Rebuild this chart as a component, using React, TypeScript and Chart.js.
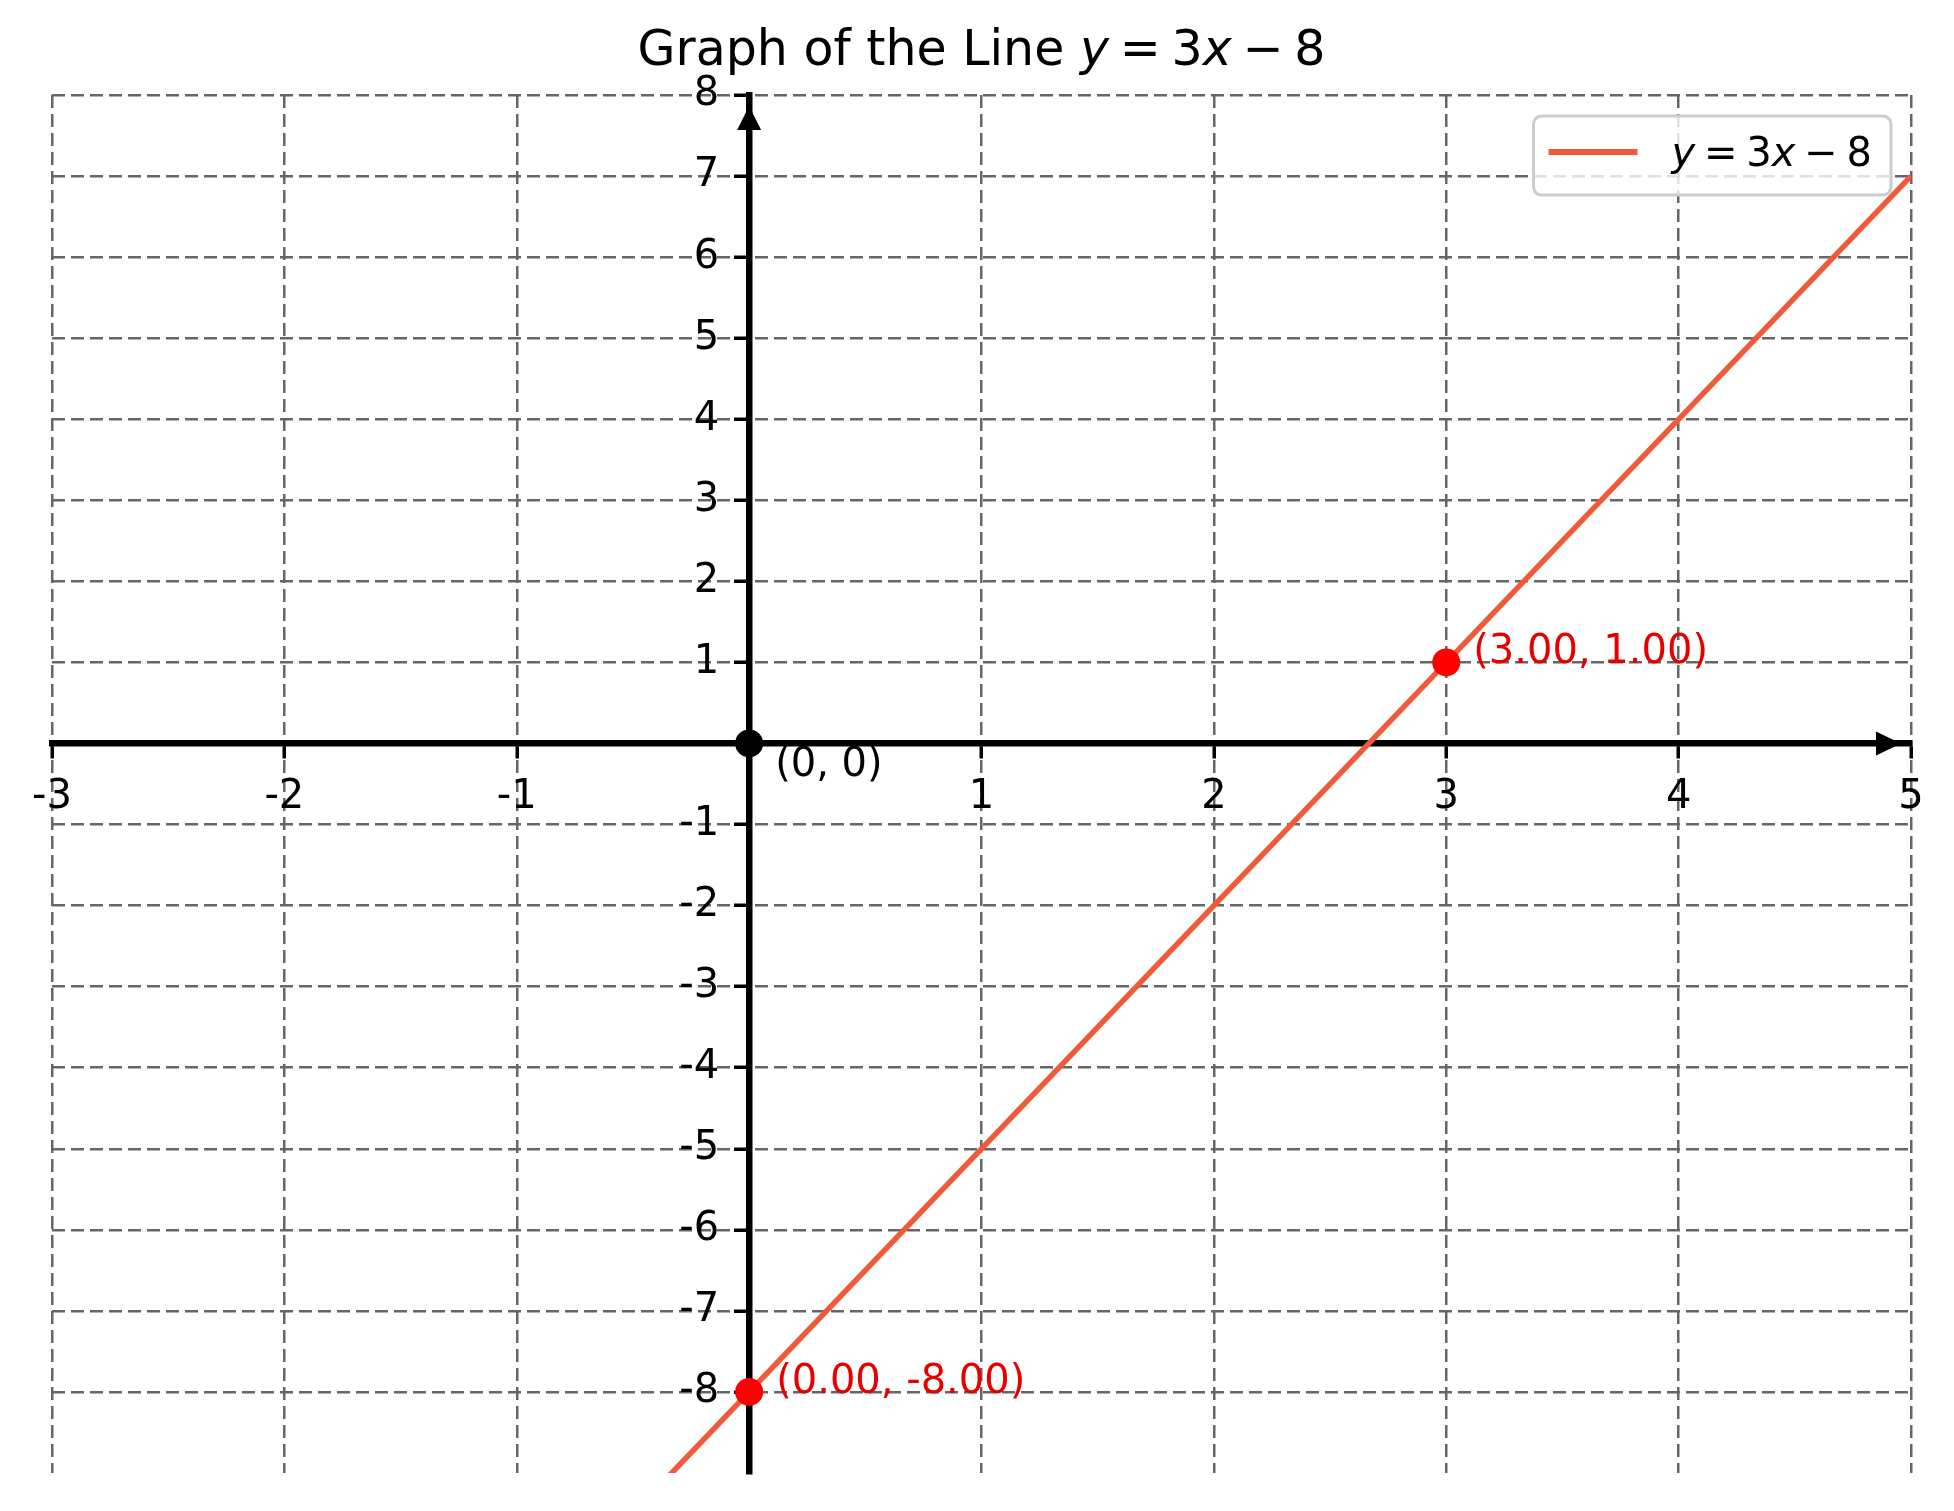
import React, { useEffect, useRef } from 'react';
import { Chart, registerables, LinearScale } from 'chart.js';

// ---- data ----
const chartTitle = 'Graph of the Line';
const seriesLabel = 'y = 3x − 8';
const lineX = [-3, 5];
const lineY = [-17, 7];
const markedX = [3, 0];
const markedY = [1, -8];
const markedLabels = ['(3.00, 1.00)', '(0.00, -8.00)'];
const originX = [0];
const originY = [0];
const originLabel = '(0, 0)';
const xTicks = [-3, -2, -1, 0, 1, 2, 3, 4, 5];
const xTickLabels = ['-3', '-2', '-1', '', '1', '2', '3', '4', '5'];
const yTicks = [-8, -7, -6, -5, -4, -3, -2, -1, 0, 1, 2, 3, 4, 5, 6, 7, 8];
const yTickLabels = ['-8', '-7', '-6', '-5', '-4', '-3', '-2', '-1', '', '1', '2', '3', '4', '5', '6', '7', '8'];
const xRange = [-3, 5];
const yRange = [-9, 8];

// ---- styles ----
const FONT = 'DejaVu Sans';
const LINE_COLOR = '#EF5A3B';
const POINT_COLOR = '#ff0000';
const LABEL_RED = '#e60000';
const GRID_COLOR = '#666666';
const Y_LABEL_SHIFT = 30;

// Linear scale whose y tick labels sit left of an axis placed at a data value
class ZeroAxisScale extends (LinearScale as any) {
  static id = 'zeroLinear';
  static defaults = (LinearScale as any).defaults;
  _computeLabelItems(chartArea: any) {
    const items = super._computeLabelItems(chartArea);
    if ((this as any).axis === 'y') {
      items.forEach((it: any) => {
        it.options.translation[0] -= Y_LABEL_SHIFT;
      });
    }
    return items;
  }
}

Chart.register(...registerables, ZeroAxisScale as any);

type Part = { t: string; italic: boolean };

function mathTokens(s: string): Part[][] {
  return s.split(' ').map((tok) =>
    Array.from(tok).map((c) => ({ t: c, italic: /[a-z]/i.test(c) }))
  );
}

function setFont(ctx: CanvasRenderingContext2D, size: number, italic: boolean) {
  ctx.font = `${italic ? 'italic ' : ''}${size}px "${FONT}"`;
}

function measureMath(ctx: CanvasRenderingContext2D, s: string, size: number) {
  const toks = mathTokens(s);
  let w = 0;
  toks.forEach((tok, i) => {
    tok.forEach((p) => {
      setFont(ctx, size, p.italic);
      w += ctx.measureText(p.t).width;
    });
    if (i < toks.length - 1) w += size * 0.22;
  });
  return w;
}

function drawMath(ctx: CanvasRenderingContext2D, s: string, size: number, x: number, y: number) {
  const toks = mathTokens(s);
  let cx = x;
  ctx.textAlign = 'left';
  ctx.textBaseline = 'alphabetic';
  toks.forEach((tok, i) => {
    tok.forEach((p) => {
      setFont(ctx, size, p.italic);
      ctx.fillText(p.t, cx, y);
      cx += ctx.measureText(p.t).width;
    });
    if (i < toks.length - 1) cx += size * 0.22;
  });
  return cx;
}

const overlayPlugin = {
  id: 'overlay',
  afterDatasetsDraw(chart: any) {
    const ctx: CanvasRenderingContext2D = chart.ctx;
    const xs = chart.scales.x;
    const ys = chart.scales.y;
    const area = chart.chartArea;
    const x0 = xs.getPixelForValue(0);
    const y0 = ys.getPixelForValue(0);
    ctx.save();
    // axis arrows
    ctx.fillStyle = '#000';
    ctx.beginPath();
    ctx.moveTo(x0, area.top + 11);
    ctx.lineTo(x0 - 12, area.top + 35);
    ctx.lineTo(x0 + 12, area.top + 35);
    ctx.closePath();
    ctx.fill();
    ctx.beginPath();
    ctx.moveTo(area.right - 10, y0);
    ctx.lineTo(area.right - 35, y0 - 12);
    ctx.lineTo(area.right - 35, y0 + 12);
    ctx.closePath();
    ctx.fill();

    // point labels
    setFont(ctx, 40, false);
    ctx.textAlign = 'left';
    ctx.textBaseline = 'alphabetic';
    ctx.fillStyle = LABEL_RED;
    markedLabels.forEach((lab, i) => {
      const px = xs.getPixelForValue(markedX[i]);
      const py = ys.getPixelForValue(markedY[i]);
      ctx.fillText(lab, px + 27, py + 1);
    });
    ctx.fillStyle = '#000';
    ctx.fillText(originLabel, xs.getPixelForValue(originX[0]) + 26, ys.getPixelForValue(originY[0]) + 33);

    // legend
    const ds = chart.data.datasets.find((d: any) => d.label === seriesLabel);
    const tw = measureMath(ctx, seriesLabel, 40);
    const bw = 138 + tw + 19;
    const bh = 79;
    const bx = area.right - 20 - bw;
    const by = area.top + 21;
    ctx.beginPath();
    ctx.roundRect(bx, by, bw, bh, 8);
    ctx.fillStyle = 'rgba(255,255,255,0.8)';
    ctx.fill();
    ctx.lineWidth = 3;
    ctx.strokeStyle = '#cccccc';
    ctx.stroke();
    ctx.beginPath();
    ctx.moveTo(bx + 15, by + 36);
    ctx.lineTo(bx + 104, by + 36);
    ctx.lineWidth = 6;
    ctx.strokeStyle = ds ? ds.borderColor : LINE_COLOR;
    ctx.stroke();
    ctx.fillStyle = '#000';
    drawMath(ctx, seriesLabel, 40, bx + 138, by + 50);
    ctx.restore();
  },
  afterDraw(chart: any) {
    const ctx: CanvasRenderingContext2D = chart.ctx;
    const area = chart.chartArea;
    ctx.save();
    ctx.fillStyle = '#000';
    const size = 49;
    setFont(ctx, size, false);
    const head = chartTitle + ' ';
    const hw = ctx.measureText(head).width;
    const mw = measureMath(ctx, seriesLabel, size);
    const cx = (area.left + area.right) / 2;
    const sx = cx - (hw + mw) / 2;
    setFont(ctx, size, false);
    ctx.textAlign = 'left';
    ctx.textBaseline = 'alphabetic';
    ctx.fillText(head, sx, 65);
    drawMath(ctx, seriesLabel, size, sx + hw, 65);
    ctx.restore();
  },
};

export default function App() {
  const ref = useRef<HTMLCanvasElement | null>(null);
  useEffect(() => {
    if (!ref.current) return;
    const gridColor = (c: any) =>
      c && c.tick && c.tick.value === 0 ? 'rgba(0,0,0,0)' : GRID_COLOR;
    const chart = new Chart(ref.current, {
      type: 'scatter',
      data: {
        datasets: [
          {
            label: seriesLabel,
            data: lineX.map((x, i) => ({ x, y: lineY[i] })),
            showLine: true,
            borderColor: LINE_COLOR,
            backgroundColor: LINE_COLOR,
            borderWidth: 5.5,
            pointRadius: 0,
            order: 3,
          },
          {
            label: 'points',
            data: markedX.map((x, i) => ({ x, y: markedY[i] })),
            pointRadius: 14,
            backgroundColor: POINT_COLOR,
            borderWidth: 0,
            clip: false,
            order: 1,
          },
          {
            label: 'origin',
            data: originX.map((x, i) => ({ x, y: originY[i] })),
            pointRadius: 14,
            backgroundColor: '#000',
            borderWidth: 0,
            clip: false,
            order: 0,
          },
        ],
      } as any,
      options: {
        animation: false,
        responsive: false,
        devicePixelRatio: 1,
        events: [],
        layout: { padding: { left: 52, top: 95, right: 43, bottom: 30 } },
        plugins: {
          legend: { display: false },
          title: { display: false },
          tooltip: { enabled: false },
        },
        scales: {
          x: {
            type: 'zeroLinear',
            min: xRange[0],
            max: xRange[1],
            position: { y: 0 } as any,
            afterBuildTicks: (s: any) => {
              s.ticks = xTicks.map((v) => ({ value: v }));
            },
            grid: {
              color: gridColor,
              lineWidth: 2.5,
              tickColor: '#000',
              tickWidth: 3.5,
              tickLength: 12,
              tickBorderDash: [],
            } as any,
            border: { display: true, color: '#000', width: 6.5, dash: [13, 6] },
            ticks: {
              callback: (_v: any, i: number) => xTickLabels[i],
              font: { family: FONT, size: 40 },
              color: '#000',
              padding: 18,
              maxRotation: 0,
              autoSkip: false,
            },
          },
          y: {
            type: 'zeroLinear',
            min: yRange[0],
            max: yRange[1],
            position: { x: 0 } as any,
            afterBuildTicks: (s: any) => {
              s.ticks = yTicks.map((v) => ({ value: v }));
            },
            grid: {
              color: gridColor,
              lineWidth: 2.5,
              tickColor: '#000',
              tickWidth: 3.5,
              tickLength: 12,
              tickBorderDash: [],
            } as any,
            border: { display: true, color: '#000', width: 6.5, dash: [13, 6] },
            ticks: {
              callback: (_v: any, i: number) => yTickLabels[i],
              font: { family: FONT, size: 40 },
              color: '#000',
              padding: 14,
              autoSkip: false,
            },
          },
        },
      } as any,
      plugins: [overlayPlugin],
    });
    return () => chart.destroy();
  }, []);
  return (
    <div style={{ position: 'absolute', left: 0, top: 0, width: 1954, height: 1511, background: '#fff' }}>
      <canvas ref={ref} width={1954} height={1511} style={{ width: 1954, height: 1511, display: 'block' }} />
    </div>
  );
}
